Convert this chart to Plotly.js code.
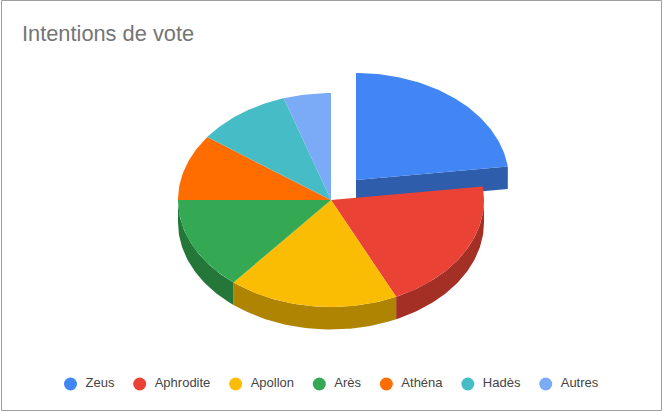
<!DOCTYPE html>
<html>
<head>
<meta charset="utf-8">
<script src="https://cdn.plot.ly/plotly-3.0.1.min.js"></script>
<style>html,body{margin:0;padding:0;background:#fff;overflow:hidden}#chart{width:663px;height:412px}</style>
</head>
<body>
<div id="chart"></div>
<script>
const chartTitle = "Intentions de vote";
const categories = ["Zeus", "Aphrodite", "Apollon", "Arès", "Athéna", "Hadès", "Autres"];
const shares = [23, 20, 18, 14, 10, 10, 5];
const topColors = ["#4285F4", "#EA4335", "#FBBC04", "#34A853", "#FF6D01", "#46BDC6", "#7BAAF7"];
const sideColors = ["#2E5DAB", "#A42F25", "#B08403", "#247639", "#B34C01", "#31848B", "#5677AD"];
const explode = [1, 0, 0, 0, 0, 0, 0];

// Pixel-space geometry of the tilted pie
const W = 663, H = 412;
const cx = 331, cy = 200, rx = 153, ry = 107, depth = 22.5;
const explodeDx = 25, explodeDy = -20;
const STEP = 1;

const total = shares.reduce((a, b) => a + b, 0);
let cum = 0;
const slices = shares.map((v, i) => {
  const a = cum / total * 360; cum += v;
  const b = cum / total * 360;
  return {i, a, b, ox: cx + explode[i] * explodeDx, oy: cy + explode[i] * explodeDy};
});
function rim(s, t, dz) {
  const r = t * Math.PI / 180;
  return [s.ox + rx * Math.sin(r), s.oy - ry * Math.cos(r) + (dz || 0)];
}
function arc(s, from, to, dz) {
  const pts = [];
  const n = Math.max(1, Math.ceil((to - from) / STEP));
  for (let k = 0; k <= n; k++) pts.push(rim(s, from + (to - from) * k / n, dz));
  return pts;
}
function poly(pts, color, name) {
  return {
    type: "scatter", mode: "lines", x: pts.map(p => p[0]), y: pts.map(p => p[1]),
    fill: "toself", fillcolor: color, line: {width: 0, color: color},
    hoverinfo: "text", text: name, showlegend: false
  };
}
const traces = [];
slices.forEach(s => {
  const name = categories[s.i];
  // Outer wall: only the front half of the rim is visible
  const from = Math.max(s.a, 90), to = Math.min(s.b, 270);
  if (to > from) {
    const upper = arc(s, from, to, 0), lower = arc(s, from, to, depth).reverse();
    traces.push(poly(upper.concat(lower), sideColors[s.i], name));
  }
  // Radial wall exposed by pulling the slice out of the pie
  if (explode[s.i]) {
    const e = rim(s, s.b, 0), e2 = rim(s, s.b, depth);
    traces.push(poly([[s.ox, s.oy], e, e2, [s.ox, s.oy + depth]], sideColors[s.i], name));
  }
  // Top face
  traces.push(poly([[s.ox, s.oy]].concat(arc(s, s.a, s.b, 0)), topColors[s.i], name));
});

// Legend row, laid out from the measured label widths
const legendFont = {family: "Liberation Sans, Arial, sans-serif", size: 13, color: "#444444"};
const ctx = document.createElement("canvas").getContext("2d");
ctx.font = legendFont.size + "px Liberation Sans";
const legendY = 384, legendStart = 70.5, labelGap = 15, entryGap = 25.3;
let lx = legendStart;
const markerX = [], labelX = [];
categories.forEach(c => {
  markerX.push(lx); labelX.push(lx + labelGap);
  lx += labelGap + ctx.measureText(c).width + entryGap;
});
traces.push({
  type: "scatter", mode: "markers", x: markerX, y: categories.map(() => legendY),
  marker: {size: 13, color: topColors, line: {width: 0}}, hoverinfo: "skip", showlegend: false, cliponaxis: false
});
traces.push({
  type: "scatter", mode: "text", x: labelX, y: categories.map(() => legendY),
  text: categories, textposition: "middle right", textfont: legendFont,
  hoverinfo: "skip", showlegend: false, cliponaxis: false
});

const layout = {
  width: W, height: H,
  margin: {l: 0, r: 0, t: 0, b: 0},
  paper_bgcolor: "#ffffff", plot_bgcolor: "#ffffff",
  showlegend: false,
  title: {
    text: chartTitle, x: 22 / W, xanchor: "left", xref: "paper",
    y: 1 - 33 / H, yanchor: "middle", yref: "container",
    font: {family: "Liberation Sans, Arial, sans-serif", size: 21.8, color: "#757575"}
  },
  xaxis: {range: [0, W], visible: false, fixedrange: true},
  yaxis: {range: [H, 0], visible: false, fixedrange: true},
  shapes: [{type: "rect", xref: "paper", yref: "paper", x0: 1.5 / W, x1: 661.5 / W, y0: 1.5 / H, y1: 411.5 / H,
    line: {color: "#9E9E9E", width: 1}, fillcolor: "rgba(0,0,0,0)"}]
};
Plotly.newPlot("chart", traces, layout, {displayModeBar: false, staticPlot: true});
</script>
</body>
</html>
